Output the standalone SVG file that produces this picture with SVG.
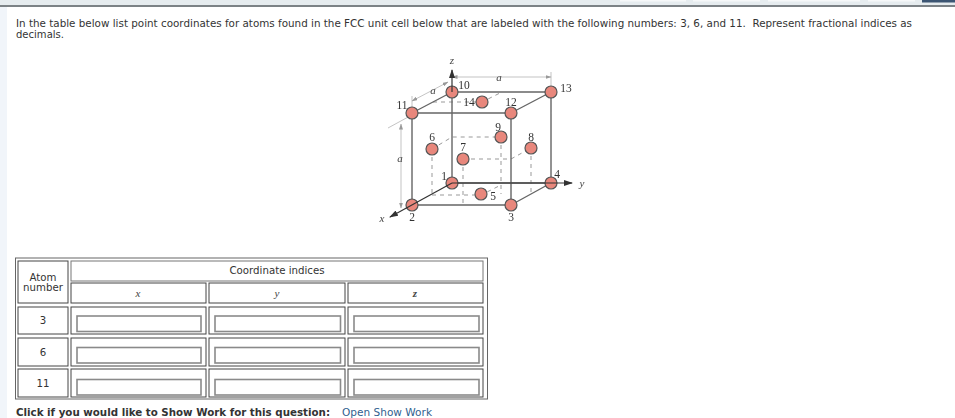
<svg xmlns="http://www.w3.org/2000/svg" width="955" height="418" viewBox="0 0 955 418">
<style>
text{font-family:"DejaVu Sans","Liberation Sans",sans-serif;fill:#333}
.q{font-size:9.6px}
.c{font-size:10.2px;text-anchor:middle}
.i{font-family:"Liberation Serif",serif;font-style:italic;font-size:11px;text-anchor:middle;fill:#444}
.f{font-family:"Liberation Serif",serif;font-size:11.500px;text-anchor:middle;fill:#333}
.cell{fill:#fff;stroke:#444;stroke-width:1}
.hcell{fill:#fff;stroke:#777;stroke-width:1}
.input{fill:#fff;stroke:#8a8a8a;stroke-width:1.6}
.edge{fill:none;stroke:#666;stroke-width:1.4}
.dash{fill:none;stroke:#999;stroke-width:1;stroke-dasharray:4 4}
.dim{fill:none;stroke:#aaa;stroke-width:.7}
.atom{fill:#e8877c;stroke:#555;stroke-width:1.2}
.ax{fill:none;stroke:#333;stroke-width:1.2}
</style>
<defs>
<marker id="ah" markerWidth="9" markerHeight="6" refX="8" refY="3" orient="auto" markerUnits="userSpaceOnUse"><path d="M0 0L9 3L0 6z" fill="#333"/></marker>
<marker id="dh" markerWidth="6" markerHeight="4" refX="5.500" refY="2" orient="auto-start-reverse" markerUnits="userSpaceOnUse"><path d="M0 0L6 2L0 4z" fill="#999"/></marker>
<filter id="soft" x="-5%" y="-5%" width="110%" height="110%"><feGaussianBlur stdDeviation="0.35"/></filter>
</defs>
<rect width="955" height="418" fill="#fff"/>
<rect width="955" height="5" fill="#e6ecef"/>
<rect x="620" width="66" height="1.500" fill="#f6f8f9"/>
<rect x="693" width="67" height="1.500" fill="#f6f8f9"/>
<rect x="768" width="92" height="1.500" fill="#f6f8f9"/>
<rect x="868" width="47" height="1.500" fill="#f6f8f9"/>
<rect y="5" width="955" height="2" fill="#7c8286"/>
<rect y="7" width="7" height="411" fill="#f1f5fa"/>
<rect x="922" width="33" height="2.500" fill="#3c5573"/>
<text class="q" x="16" y="27" xml:space="preserve" textLength="896" lengthAdjust="spacingAndGlyphs">In the table below list point coordinates for atoms found in the FCC unit cell below that are labeled with the following numbers: 3, 6, and 11.  Represent fractional indices as</text>
<text class="q" x="16" y="38" textLength="48" lengthAdjust="spacingAndGlyphs">decimals.</text>

<g filter="url(#soft)">
<g id="connectors">
<path class="dash" d="M432 149L452 137L501 137M463 159L511 159L531 148M432 149V194M463 159V205M501 137V194M531 148V194M432 195H481L501 185M433 102H482L502 92"/>
<path class="edge" d="M412 113H511V205H412ZM452 92H551V183H452ZM412 113L452 92M511 113L551 92M511 205L551 183M452 183V92"/>
<path class="dim" d="M452 77H551" marker-start="url(#dh)" marker-end="url(#dh)"/>
<path class="dim" d="M412 101L448 82" marker-start="url(#dh)" marker-end="url(#dh)"/>
<path class="dim" d="M401 124V208" marker-start="url(#dh)" marker-end="url(#dh)"/>
<path class="dim" d="M388 128L410 116M551 72V90M412 96V111"/>
</g>

<g id="atom-1"><circle class="atom" cx="452" cy="183" r="6"/><text class="f" x="444" y="180">1</text></g>
<g id="atom-2"><circle class="atom" cx="412" cy="205" r="6"/><text class="f" x="412" y="221">2</text></g>
<g id="atom-3"><circle class="atom" cx="511" cy="205" r="6"/><text class="f" x="511" y="221">3</text></g>
<g id="atom-4"><circle class="atom" cx="551" cy="183" r="6"/><text class="f" x="557" y="178">4</text></g>
<g id="atom-5"><circle class="atom" cx="481" cy="194" r="6"/><text class="f" x="493" y="200">5</text></g>
<g id="atom-6"><circle class="atom" cx="432" cy="149" r="6"/><text class="f" x="432" y="141">6</text></g>
<g id="atom-7"><circle class="atom" cx="463" cy="159" r="6"/><text class="f" x="463" y="151">7</text></g>
<g id="atom-8"><circle class="atom" cx="531" cy="148" r="6"/><text class="f" x="531" y="141">8</text></g>
<g id="atom-9"><circle class="atom" cx="501" cy="137" r="6"/><text class="f" x="498" y="131">9</text></g>
<g id="atom-10"><circle class="atom" cx="452" cy="92" r="6"/><text class="f" x="464" y="89">10</text></g>
<g id="atom-11"><circle class="atom" cx="412" cy="113" r="6"/><text class="f" x="402" y="109">11</text></g>
<g id="atom-12"><circle class="atom" cx="511" cy="113" r="6"/><text class="f" x="511" y="106">12</text></g>
<g id="atom-13"><circle class="atom" cx="551" cy="92" r="6"/><text class="f" x="566" y="92">13</text></g>
<g id="atom-14"><circle class="atom" cx="482" cy="102" r="6"/><text class="f" x="469" y="106">14</text></g>

<g id="axes">
<path class="ax" d="M452 92V70" marker-end="url(#ah)"/>
<path class="ax" d="M452 183H572" marker-end="url(#ah)"/>
<path class="ax" d="M452 183L390 217" marker-end="url(#ah)"/>
</g>

<text class="i" x="452" y="64">z</text>
<text class="i" x="582" y="187">y</text>
<text class="i" x="382" y="222">x</text>
<text class="i" x="499" y="81">a</text>
<text class="i" x="433" y="94">a</text>
<text class="i" x="400" y="162">a</text>
</g>

<g id="table">
<rect x="15.500" y="258" width="472" height="141" fill="#fff" stroke="#666"/>
<rect class="cell" x="18" y="261" width="50" height="42"/>
<rect class="hcell" x="71" y="261" width="412" height="20"/>
<rect class="cell" x="71" y="283" width="135" height="20"/>
<rect class="cell" x="209" y="283" width="136" height="20"/>
<rect class="cell" x="348" y="283" width="135" height="20"/>
<rect class="cell" x="18" y="307" width="50" height="27"/>
<rect class="cell" x="71" y="307" width="135" height="27"/>
<rect class="cell" x="209" y="307" width="136" height="27"/>
<rect class="cell" x="348" y="307" width="135" height="27"/>
<rect class="cell" x="18" y="338" width="50" height="28"/>
<rect class="cell" x="71" y="338" width="135" height="28"/>
<rect class="cell" x="209" y="338" width="136" height="28"/>
<rect class="cell" x="348" y="338" width="135" height="28"/>
<rect class="cell" x="18" y="369" width="50" height="28"/>
<rect class="cell" x="71" y="369" width="135" height="28"/>
<rect class="cell" x="209" y="369" width="136" height="28"/>
<rect class="cell" x="348" y="369" width="135" height="28"/>
<rect class="input" x="77" y="316" width="124" height="15.500"/>
<rect class="input" x="215" y="316" width="125.500" height="15.500"/>
<rect class="input" x="354" y="316" width="125" height="15.500"/>
<rect class="input" x="77" y="347.500" width="124" height="15.500"/>
<rect class="input" x="215" y="347.500" width="125.500" height="15.500"/>
<rect class="input" x="354" y="347.500" width="125" height="15.500"/>
<rect class="input" x="77" y="379.500" width="124" height="15.500"/>
<rect class="input" x="215" y="379.500" width="125.500" height="15.500"/>
<rect class="input" x="354" y="379.500" width="125" height="15.500"/>
<text class="c" x="43" y="281">Atom</text>
<text class="c" x="43" y="291">number</text>
<text class="c" x="277" y="274" textLength="95" lengthAdjust="spacingAndGlyphs">Coordinate indices</text>
<text class="i" x="138" y="297">x</text>
<text class="i" x="277" y="297">y</text>
<text class="i" x="415" y="297" font-weight="bold">z</text>
<text class="c" x="43" y="324">3</text>
<text class="c" x="43" y="356">6</text>
<text class="c" x="43" y="387">11</text>
</g>
<text x="16" y="415.500" font-size="9.600" font-weight="bold" textLength="314" lengthAdjust="spacingAndGlyphs">Click if you would like to Show Work for this question:</text>
<text x="342" y="415.500" font-size="9.600" textLength="90" lengthAdjust="spacingAndGlyphs" style="fill:#2f5f8f">Open Show Work</text>
</svg>
